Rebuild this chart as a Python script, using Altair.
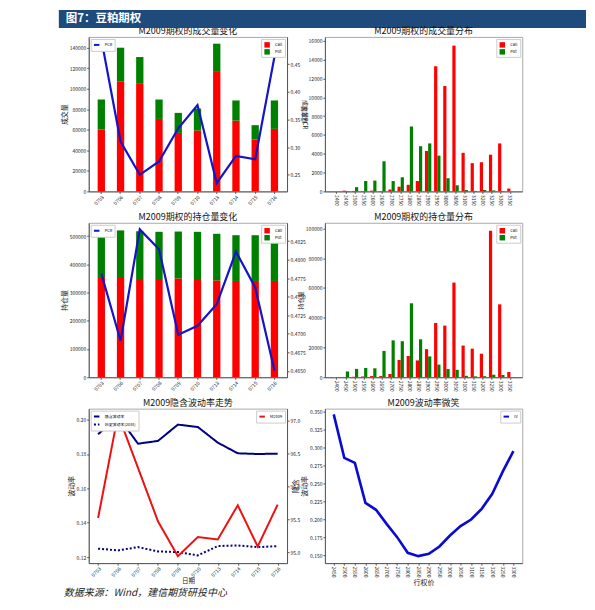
import altair as alt
import pandas as pd

FONT = "Noto Sans CJK SC"
RED = "#ff0000"
GREEN = "#008000"
BLUE = "#1414c8"
NAVY = "#000080"

header_text = "图7：豆粕期权"
source_text = "数据来源：Wind，建信期货研投中心"
titles = ["M2009期权的成交量变化", "M2009期权的成交量分布", "M2009期权的持仓量变化",
          "M2009期权的持仓量分布", "M2009隐含波动率走势", "M2009波动率微笑"]

dates = ["0703", "0706", "0707", "0708", "0709", "0710", "0713", "0714", "0715", "0716"]
vol_call = [60200, 107400, 104800, 70600, 57000, 59300, 117200, 69000, 50500, 60900]
vol_put = [29300, 32600, 26100, 18900, 19500, 21400, 26700, 19600, 14000, 27700]
vol_pcr = [0.495, 0.310, 0.250, 0.274, 0.334, 0.376, 0.235, 0.284, 0.278, 0.463]

oi_call = [355000, 355000, 348000, 348000, 350000, 348000, 343000, 341000, 341000, 341000]
oi_put = [165000, 165000, 169000, 167000, 166000, 167000, 165000, 162000, 162000, 158000]
oi_pcr = [0.47813, 0.46906, 0.48407, 0.48139, 0.46987, 0.47108, 0.47400, 0.48107, 0.47625, 0.46505]

strikes = [str(s) for s in range(2400, 3400, 50)]
dist_vol_call = [0, 80, 50, 30, 80, 30, 200, 500, 700, 1100, 4300, 13300, 11200, 15500, 4100, 3000, 3100, 3900, 5100, 300]
dist_vol_put = [0, 30, 450, 1100, 1150, 3200, 1100, 1500, 6900, 4800, 5100, 3800, 1400, 650, 150, 50, 150, 100, 30, 0]
dist_oi_call = [0, 200, 300, 500, 800, 800, 2200, 11600, 14300, 11300, 18900, 36500, 34700, 63600, 21300, 19200, 15800, 98500, 49000, 3500]
dist_oi_put = [0, 3900, 5600, 6200, 6000, 17700, 24800, 24200, 49700, 25500, 14000, 8500, 5500, 5000, 1000, 600, 700, 1700, 1500, 0]

iv_atm = [0.1915, 0.2019, 0.1860, 0.1876, 0.1971, 0.1957, 0.1866, 0.1804, 0.1800, 0.1802]
hv_20 = [0.1249, 0.1239, 0.1258, 0.1233, 0.1229, 0.1210, 0.1264, 0.1268, 0.1258, 0.1264]
und_line = [95.525, 97.096, 96.287, 95.475, 94.944, 95.234, 95.198, 95.718, 95.091, 95.728]

smile_strikes = [str(s) for s in range(2450, 3350, 50)]
smile_iv = [0.3458, 0.2852, 0.2782, 0.2227, 0.2130, 0.1935, 0.1750, 0.1532, 0.1486, 0.1518,
            0.1620, 0.1773, 0.1903, 0.1995, 0.2144, 0.2353, 0.2664, 0.2947]

WL, WR, H = 199, 198, 155

cp_color = alt.Color("type:N", scale=alt.Scale(domain=["Call", "Put"], range=[RED, GREEN]),
                     legend=alt.Legend(orient="top-right", title=None, symbolType="square"))


def title_layer(text, w):
    return alt.Chart(pd.DataFrame({"t": [text]})).mark_text(
        font=FONT, fontSize=9, baseline="bottom", align="center", color="#111"
    ).encode(text="t:N", x=alt.value(w / 2), y=alt.value(-1))


def date_x(pad_in=None, pad_out=None, point_pad=None, title=None):
    if point_pad is not None:
        sc = alt.Scale(type="point", padding=point_pad)
    else:
        sc = alt.Scale(paddingInner=pad_in, paddingOuter=pad_out)
    return alt.X("date:N", sort=dates, scale=sc,
                 axis=alt.Axis(labelAngle=-45, title=title, titleFontSize=6.5, titlePadding=0))


def change_panel(call, put, pcr, ydom, yticks, rdom, rticks, rfmt, ytitle, rtitle, title, extra=None):
    df = pd.DataFrame({"date": dates * 2, "type": ["Call"] * 10 + ["Put"] * 10,
                       "v": call + put, "ord": [0] * 10 + [1] * 10})
    x = date_x(0.62, 0.465)
    bars = alt.Chart(df).mark_bar().encode(
        x=x,
        y=alt.Y("v:Q", stack="zero", scale=alt.Scale(domain=ydom, nice=False),
                axis=alt.Axis(values=yticks, title=ytitle, orient="left", format="d")),
        color=cp_color,
        order=alt.Order("ord:Q"),
    )
    ldf = pd.DataFrame({"date": dates, "s": ["PCR"] * 10, "p": pcr})
    raxis = dict(values=rticks, orient="right", format=rfmt, title=rtitle)
    if rtitle:
        raxis["titleFontSize"] = 6
    line = alt.Chart(ldf).mark_line(strokeWidth=2.2).encode(
        x=x,
        y=alt.Y("p:Q", scale=alt.Scale(domain=rdom, nice=False, zero=False), axis=alt.Axis(**raxis)),
        color=alt.Color("s:N", scale=alt.Scale(domain=["PCR"], range=[BLUE]),
                        legend=alt.Legend(orient="top-left", title=None)),
    )
    layers = [bars, line, title_layer(title, WL)]
    if extra:
        layers += extra
    return alt.layer(*layers).resolve_scale(y="independent", color="independent").properties(width=WL, height=H)


def dist_panel(call, put, ydom, yticks, ytitle, title):
    df = pd.DataFrame({"strike": strikes * 2, "type": ["Call"] * 20 + ["Put"] * 20, "v": call + put})
    bars = alt.Chart(df).mark_bar().encode(
        x=alt.X("strike:N", sort=strikes, scale=alt.Scale(paddingInner=0.3, paddingOuter=0.94),
                axis=alt.Axis(labelAngle=90, title=None)),
        xOffset=alt.XOffset("type:N", sort=["Call", "Put"], scale=alt.Scale(paddingInner=0, paddingOuter=0)),
        y=alt.Y("v:Q", scale=alt.Scale(domain=ydom, nice=False),
                axis=alt.Axis(values=yticks, title=ytitle, format="d", titleFontSize=6)),
        color=cp_color,
    )
    return alt.layer(bars, title_layer(title, WR)).properties(width=WR, height=H)


# header band + source (decorations inside first / fifth panel)
hdr = pd.DataFrame({"t": [header_text]})
band = alt.Chart(hdr).mark_rect(color="#1f4a7c").encode(
    x=alt.value(-30), x2=alt.value(499), y=alt.value(-27), y2=alt.value(-9))
band_text = alt.Chart(hdr).mark_text(font=FONT, fontSize=11.5, fontWeight="bold", color="white",
                                     align="left", baseline="middle").encode(
    text="t:N", x=alt.value(-23), y=alt.value(-18))

p1 = change_panel(vol_call, vol_put, vol_pcr, [0, 150500], list(range(0, 140001, 20000)),
                  [0.22, 0.499], [0.25, 0.30, 0.35, 0.40, 0.45], ".2f", "成交量", "成交量PCR",
                  titles[0], extra=[band, band_text])
p2 = dist_panel(dist_vol_call, dist_vol_put, [0, 16420], list(range(0, 16001, 2000)), "成交量", titles[1])
p3 = change_panel(oi_call, oi_put, oi_pcr, [0, 547000], list(range(0, 500001, 100000)),
                  [0.46415, 0.48496], [0.4650, 0.4675, 0.4700, 0.4725, 0.4750, 0.4775, 0.4800, 0.4825],
                  ".4f", "持仓量", None, titles[2])
p4 = dist_panel(dist_oi_call, dist_oi_put, [0, 103800], list(range(0, 100001, 20000)), "持仓量", titles[3])

# volatility trend
series_names = ["隐含波动率", "历史波动率(20日)"]
vdf = pd.DataFrame({"date": dates * 2, "s": [series_names[0]] * 10 + [series_names[1]] * 10,
                    "v": iv_atm + hv_20})
xv = date_x(point_pad=0.47, title="日期")
vol_lines = alt.Chart(vdf).mark_line(strokeWidth=2, color=NAVY).encode(
    x=xv,
    y=alt.Y("v:Q", scale=alt.Scale(domain=[0.1165, 0.2064], nice=False, zero=False),
            axis=alt.Axis(values=[0.12, 0.14, 0.16, 0.18, 0.20], format=".2f", title="波动率")),
    strokeDash=alt.StrokeDash("s:N", scale=alt.Scale(domain=series_names, range=[[1, 0], [2, 2]]),
                              legend=alt.Legend(orient="top-left", title=None, symbolStrokeColor=NAVY)),
)
udf = pd.DataFrame({"date": dates, "u": ["M2009"] * 10, "v": und_line})
und = alt.Chart(udf).mark_line(strokeWidth=2).encode(
    x=xv,
    y=alt.Y("v:Q", scale=alt.Scale(domain=[94.838, 97.188], nice=False, zero=False),
            axis=alt.Axis(values=[95.0, 95.5, 96.0, 96.5, 97.0], format=".1f", orient="right", title=None)),
    color=alt.Color("u:N", scale=alt.Scale(domain=["M2009"], range=["#ee1111"]),
                    legend=alt.Legend(orient="top-right", title=None)),
)
src = alt.Chart(pd.DataFrame({"t": [source_text]})).mark_text(
    font=FONT, fontSize=10, fontStyle="italic", color="#222", align="left", baseline="middle"
).encode(text="t:N", x=alt.value(-25), y=alt.value(185))
p5 = alt.layer(vol_lines, und, title_layer(titles[4], WL), src).resolve_scale(
    y="independent").properties(width=WL, height=H)

# smile
sdf = pd.DataFrame({"strike": smile_strikes, "s": ["IV"] * len(smile_strikes), "v": smile_iv})
smile = alt.Chart(sdf).mark_line(strokeWidth=2.6).encode(
    x=alt.X("strike:N", sort=smile_strikes, scale=alt.Scale(type="point", padding=0.835),
            axis=alt.Axis(labelAngle=90, title="行权价", titleFontSize=7, titlePadding=1)),
    y=alt.Y("v:Q", scale=alt.Scale(domain=[0.1389, 0.3537], nice=False, zero=False),
            axis=alt.Axis(values=[0.150, 0.175, 0.200, 0.225, 0.250, 0.275, 0.300, 0.325, 0.350],
                          format=".3f", title=["隐含", "波动率"])),
    color=alt.Color("s:N", scale=alt.Scale(domain=["IV"], range=["#0a0ad2"]),
                    legend=alt.Legend(orient="top-right", title=None)),
)
p6 = alt.layer(smile, title_layer(titles[5], WR)).properties(width=WR, height=H)

chart = alt.concat(p1, p2, p3, p4, p5, p6, columns=2, spacing={"row": 31.5, "column": 38},
                   bounds="flush").resolve_scale(color="independent", strokeDash="independent").resolve_legend(
    color="independent", strokeDash="independent").properties(
    padding={"left": 50, "top": 0, "right": 0, "bottom": 0}
).configure_axis(
    labelFont=FONT, labelFontSize=5, titleFont=FONT, titleFontSize=7, titleFontWeight="normal",
    tickSize=2, labelPadding=1, titlePadding=2, domainColor="#555", tickColor="#555",
    labelColor="#222", titleColor="#222", grid=False
).configure_view(stroke="#aaa", strokeWidth=1).configure_legend(
    labelFont=FONT, labelFontSize=4, symbolSize=30, padding=2, rowPadding=0, offset=2,
    strokeColor="#ccc", fillColor="white", symbolStrokeWidth=2, labelLimit=80
)

chart.save("out.html", embed_options={"renderer": "svg", "actions": False})
